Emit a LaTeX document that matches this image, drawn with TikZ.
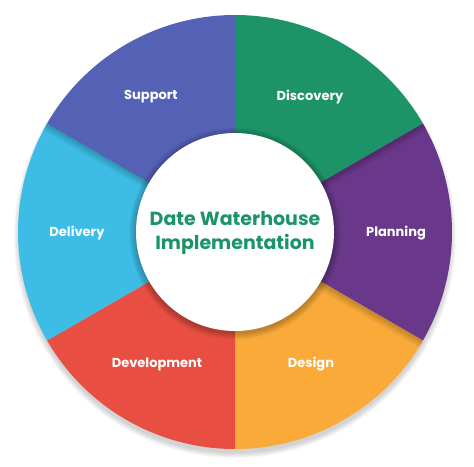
\documentclass[tikz,border=0pt]{standalone}
\usepackage{fontspec}
\setmainfont{Poppins}
\definecolor{cSupport}{HTML}{5561B5}
\definecolor{cDiscovery}{HTML}{1C9468}
\definecolor{cPlanning}{HTML}{6A388A}
\definecolor{cDesign}{HTML}{F9AA38}
\definecolor{cDevelopment}{HTML}{E84F42}
\definecolor{cDelivery}{HTML}{3DBDE6}
\definecolor{cTitle}{HTML}{1C9468}
\tikzset{
  seglabel/.style={text=white, font=\bfseries\fontsize{13}{15}\selectfont, inner sep=0pt},
  titlelabel/.style={text=cTitle, font=\bfseries\fontsize{19}{24}\selectfont, align=center, inner sep=0pt},
  softshade/.style={draw=black, draw opacity=0.045, line width=#1},
}
\newcommand{\ringsector}[3]{% start angle, end angle, colour
  \fill[#3] (c) -- ++(#1:217) arc[start angle=#1, end angle=#2, radius=217] -- cycle;
}
\newcommand{\edgeshade}[3]{% sector start, sector end, boundary angle
  \begin{scope}
    \clip (c) -- ++(#1:217) arc[start angle=#1, end angle=#2, radius=217] -- cycle;
    \foreach \w in {3,6,9,12,16} {\draw[softshade=\w pt] (c) -- ++(#3:230);}
  \end{scope}
}
\begin{document}
\begin{tikzpicture}[x=1pt,y=-1pt]
\useasboundingbox (0,0) rectangle (474,466);
\coordinate (c) at (235,232);
\coordinate (cs) at (235,237);
\coordinate (ci) at (235,233.5);
% outer drop shadow (mostly below the ring)
\foreach \r in {0,1,...,5} {\fill[black, opacity=0.03] (cs) circle[radius=216+\r];}
% sectors (y axis flipped: angles run clockwise)
\ringsector{-90}{-30}{cDiscovery}
\ringsector{-30}{30}{cPlanning}
\ringsector{30}{90}{cDesign}
\ringsector{90}{150}{cDevelopment}
\ringsector{150}{210}{cDelivery}
\ringsector{210}{270}{cSupport}
% soft shading where one segment lies over the next
\edgeshade{150}{210}{210}
\edgeshade{-30}{30}{-30}
\edgeshade{30}{90}{30}
% inner circle with soft shadow
\foreach \r in {1,2,...,7} {\fill[black, opacity=0.035] (ci) circle[radius=99+\r];}
\fill[white] (c) circle[radius=99];
% labels
\node[seglabel] (support) at (151,97) {Support};
\node[seglabel] (discovery) at (310,97) {Discovery};
\node[seglabel] (planning) at (396,233) {Planning};
\node[seglabel] (design) at (311,364) {Design};
\node[seglabel] (development) at (157,364) {Development};
\node[seglabel] (delivery) at (77,233) {Delivery};
\node[titlelabel] (title) at (235,233) {Date Waterhouse\\Implementation};
\end{tikzpicture}
\end{document}
